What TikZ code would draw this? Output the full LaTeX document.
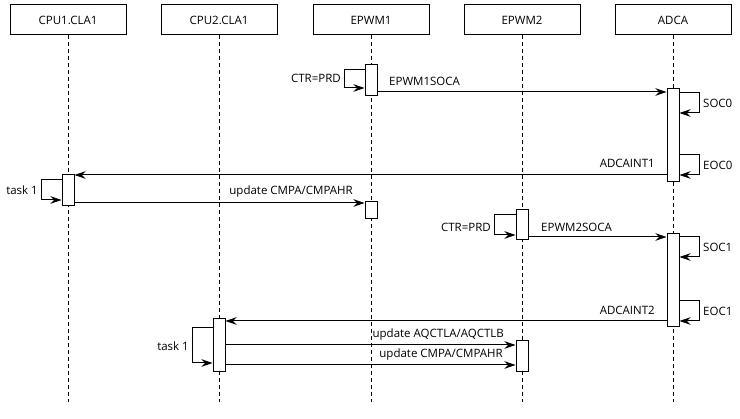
\documentclass[tikz,border=0pt]{standalone}
\usepackage{fontspec}
\setmainfont{Open Sans}
\usetikzlibrary{arrows.meta,positioning}
\tikzset{
  >={Stealth[length=11pt,width=7.5pt,inset=3.5pt]},
  head/.style ={draw, line width=1pt, minimum width=116pt, minimum height=30pt, inner sep=0pt, font=\fontsize{11.5}{13}\selectfont},
  life/.style ={line width=1pt, dash pattern=on 4pt off 3pt},
  bar/.style  ={draw, line width=1pt, fill=white, minimum width=12pt, inner sep=0pt},
  msg/.style  ={->, line width=1pt},
  lbl/.style  ={inner sep=0pt, font=\fontsize{11.5}{13}\selectfont}
}
\begin{document}
\begin{tikzpicture}[x=1pt,y=-1pt]
\useasboundingbox (0,0) rectangle (740,419);
\node[head] (cpu1) at (68,20)  {CPU1.CLA1};
\node[head] (cpu2) at (219,20) {CPU2.CLA1};
\node[head] (pwm1) at (371,20) {EPWM1};
\node[head] (pwm2) at (522,20) {EPWM2};
\node[head] (adca) at (673,20) {ADCA};
\foreach \n in {cpu1,cpu2,pwm1,pwm2,adca}
  \draw[life] (\n.south) -- (\n.south |- 0,402);

\node[bar, minimum height=31pt] (p1a) at (371,80.5)  {};
\node[bar, minimum height=93pt] (ada) at (673,135.5) {};
\node[bar, minimum height=31pt] (c1a) at (68,190.5)  {};
\node[bar, minimum height=17pt] (p1b) at (371,210.5) {};
\node[bar, minimum height=30pt] (p2a) at (522,225)   {};
\node[bar, minimum height=93pt] (adb) at (673,280.5) {};
\node[bar, minimum height=53pt] (c2a) at (219,345.5) {};
\node[bar, minimum height=31pt] (p2b) at (522,356.5) {};

\draw[msg] (p1a.west |- 0,70) -- ++(-20,0) |- (p1a.west |- 0,88);
\node[lbl, anchor=east] (t1) at (341,78) {CTR=PRD};
\draw[msg] (p1a.east |- 0,92) -- (ada.west |- 0,92);
\node[lbl, anchor=west] (m1) at (389,81) {EPWM1SOCA};
\draw[msg] (ada.east |- 0,93) -- ++(20,0) |- (ada.east |- 0,113);
\node[lbl, anchor=west] (s0) at (703,103) {SOC0};
\draw[msg] (ada.east |- 0,155) -- ++(20,0) |- (ada.east |- 0,175);
\node[lbl, anchor=west] (e0) at (703,165) {EOC0};
\draw[msg] (ada.west |- 0,175) -- (c1a.east |- 0,175);
\node[lbl, anchor=east] (m2) at (655,163) {ADCAINT1};

\draw[msg] (c1a.west |- 0,180) -- ++(-20,0) |- (c1a.west |- 0,200);
\node[lbl, anchor=east] (k1) at (38,190) {task 1};
\draw[msg] (c1a.east |- 0,203) -- (p1b.west |- 0,203);
\node[lbl, anchor=east] (m3) at (353,192) {update CMPA/CMPAHR};

\draw[msg] (p2a.west |- 0,215) -- ++(-21,0) |- (p2a.west |- 0,235);
\node[lbl, anchor=east] (t2) at (491,227) {CTR=PRD};
\draw[msg] (p2a.east |- 0,237) -- (adb.west |- 0,237);
\node[lbl, anchor=west] (m4) at (541,227) {EPWM2SOCA};
\draw[msg] (adb.east |- 0,237) -- ++(20,0) |- (adb.east |- 0,257);
\node[lbl, anchor=west] (s1) at (703,247) {SOC1};
\draw[msg] (adb.east |- 0,301) -- ++(20,0) |- (adb.east |- 0,321);
\node[lbl, anchor=west] (e1) at (703,311) {EOC1};
\draw[msg] (adb.west |- 0,321) -- (c2a.east |- 0,321);
\node[lbl, anchor=east] (m5) at (655,310) {ADCAINT2};

\draw[msg] (c2a.west |- 0,328) -- ++(-20,0) |- (c2a.west |- 0,363);
\node[lbl, anchor=east] (k2) at (189,346) {task 1};
\draw[msg] (c2a.east |- 0,345) -- (p2b.west |- 0,345);
\node[lbl, anchor=east] (m6) at (504,335) {update AQCTLA/AQCTLB};
\draw[msg] (c2a.east |- 0,365) -- (p2b.west |- 0,365);
\node[lbl, anchor=east] (m7) at (503,355) {update CMPA/CMPAHR};
\end{tikzpicture}
\end{document}
